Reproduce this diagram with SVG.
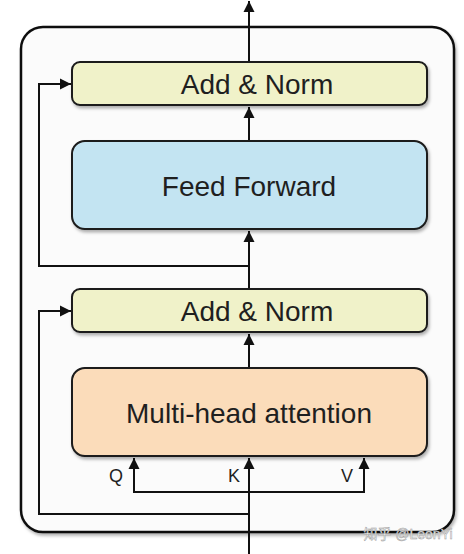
<svg xmlns="http://www.w3.org/2000/svg" width="464" height="554" viewBox="0 0 464 554">
<defs>
<style>
.box{stroke:#1a1a1a;stroke-width:2;filter:url(#sh)}
.lbl{font-family:"Liberation Sans",Arial,sans-serif;font-size:28px;fill:#1f1f1f;text-anchor:middle}
.small{font-family:"Liberation Sans",Arial,sans-serif;font-size:18px;fill:#1f1f1f;text-anchor:middle}
.wire{fill:none;stroke:#111;stroke-width:2}
</style>
<filter id="sh" x="-10%" y="-10%" width="130%" height="140%">
<feDropShadow dx="1.5" dy="2.5" stdDeviation="1.5" flood-color="#000" flood-opacity="0.3"/>
</filter>
<marker id="ah" viewBox="0 0 10 10" refX="10" refY="5" markerWidth="5.5" markerHeight="6" orient="auto" markerUnits="strokeWidth">
<path d="M0,0 L10,5 L0,10 z" fill="#111"/>
</marker>
</defs>
<rect width="464" height="554" fill="#ffffff"/>
<g id="outer">
<rect x="21" y="27" width="433" height="505" rx="22" fill="#fbfbfb" stroke="#111" stroke-width="2.5" filter="url(#sh)"/>
</g>
<g id="connectors">
<path class="wire" d="M249,554 V458" marker-end="url(#ah)"/>
<path class="wire" d="M249,492 H134 V458" marker-end="url(#ah)"/>
<path class="wire" d="M249,492 H364 V458" marker-end="url(#ah)"/>
<path class="wire" d="M249,514 H39 V311 H71" marker-end="url(#ah)"/>
<path class="wire" d="M249,368 V334" marker-end="url(#ah)"/>
<path class="wire" d="M249,289 V231" marker-end="url(#ah)"/>
<path class="wire" d="M249,266 H39 V84 H71" marker-end="url(#ah)"/>
<path class="wire" d="M249,141 V107" marker-end="url(#ah)"/>
<path class="wire" d="M249,62 V1" marker-end="url(#ah)"/>
</g>
<g id="add-norm-top">
<rect class="box" x="72" y="62" width="355" height="43" rx="8" fill="#f0f2c9"/>
<text class="lbl" x="257" y="94">Add &amp; Norm</text>
</g>
<g id="feed-forward">
<rect class="box" x="72" y="141" width="355" height="88" rx="13" fill="#c3e4f2"/>
<text class="lbl" x="249" y="196">Feed Forward</text>
</g>
<g id="add-norm-bottom">
<rect class="box" x="72" y="289" width="355" height="43" rx="8" fill="#f0f2c9"/>
<text class="lbl" x="257" y="321">Add &amp; Norm</text>
</g>
<g id="multi-head">
<rect class="box" x="72" y="368" width="355" height="88" rx="13" fill="#fbdcba"/>
<text class="lbl" x="249" y="423">Multi-head attention</text>
</g>
<g id="qkv-labels">
<text class="small" x="116" y="482">Q</text>
<text class="small" x="234" y="482">K</text>
<text class="small" x="347" y="482">V</text>
</g>
<g id="watermark">
<text x="408" y="539" font-family="'Liberation Sans','Noto Sans CJK SC',sans-serif" font-size="14" fill="#ffffff" stroke="#9a9a9a" stroke-width="0.5" text-anchor="middle">知乎 @LeonYi</text>
</g>
</svg>
